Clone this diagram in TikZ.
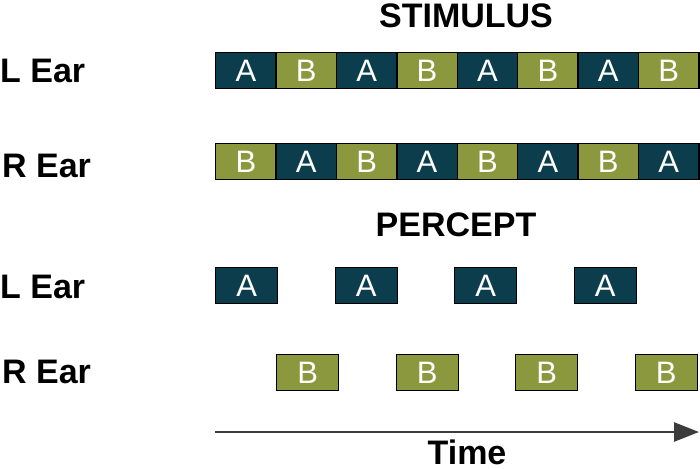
\documentclass[tikz,border=0pt]{standalone}
\usepackage{fontspec}
\setmainfont{Liberation Sans}
\usetikzlibrary{arrows.meta}
\definecolor{tealA}{HTML}{0B3D4C}
\definecolor{oliveB}{HTML}{8C983D}
\definecolor{arrowgray}{HTML}{3C3C3C}
\tikzset{
  cell/.style={draw=black, line width=1.3pt, anchor=north west, inner sep=0pt,
    minimum height=36pt, text=white, font=\fontsize{31}{31}\selectfont},
  cellA/.style={cell, fill=tealA},
  cellB/.style={cell, fill=oliveB},
  lab/.style={anchor=base west, inner sep=0pt, font=\fontsize{34}{34}\selectfont\bfseries},
  head/.style={anchor=base, inner sep=0pt, font=\fontsize{34}{34}\selectfont\bfseries},
  timearrow/.style={draw=arrowgray, line width=2.6pt, -{Triangle[length=25pt,width=19pt]}}
}
\begin{document}
\begin{tikzpicture}[x=1pt,y=-1pt]
\useasboundingbox (0,0) rectangle (700,468);
% headings
\node[head] (stim) at (466,28) {STIMULUS};
\node[head] (perc) at (456,236) {PERCEPT};
% ear labels
\node[lab] (lab1) at (0,83) {L Ear};
\node[lab] (lab2) at (2,177) {R Ear};
\node[lab] (lab3) at (0,298) {L Ear};
\node[lab] (lab4) at (2,383) {R Ear};
% stimulus rows
\foreach \i in {0,...,7}{
  \pgfmathsetmacro{\xx}{215+\i*60.4}
  \pgfmathtruncatemacro{\odd}{mod(\i,2)}
  \ifnum\odd=0
    \node[cellA, minimum width=60.4pt] (sl\i) at (\xx,52) {A};
    \node[cellB, minimum width=60.4pt] (sr\i) at (\xx,143) {B};
  \else
    \node[cellB, minimum width=60.4pt] (sl\i) at (\xx,52) {B};
    \node[cellA, minimum width=60.4pt] (sr\i) at (\xx,143) {A};
  \fi
}
% percept rows
\foreach \i in {0,...,3}{
  \pgfmathsetmacro{\xa}{215+\i*119.5}
  \pgfmathsetmacro{\xb}{276+\i*119.5}
  \node[cellA, minimum width=62pt] (pl\i) at (\xa,267) {A};
  \node[cellB, minimum width=62pt] (pr\i) at (\xb,354) {B};
}
% time arrow
\coordinate (t0) at (215,432);
\coordinate (t1) at (699,432);
\draw[timearrow] (t0) -- (t1);
\node[head] (time) at (467,464) {Time};
\end{tikzpicture}
\end{document}
